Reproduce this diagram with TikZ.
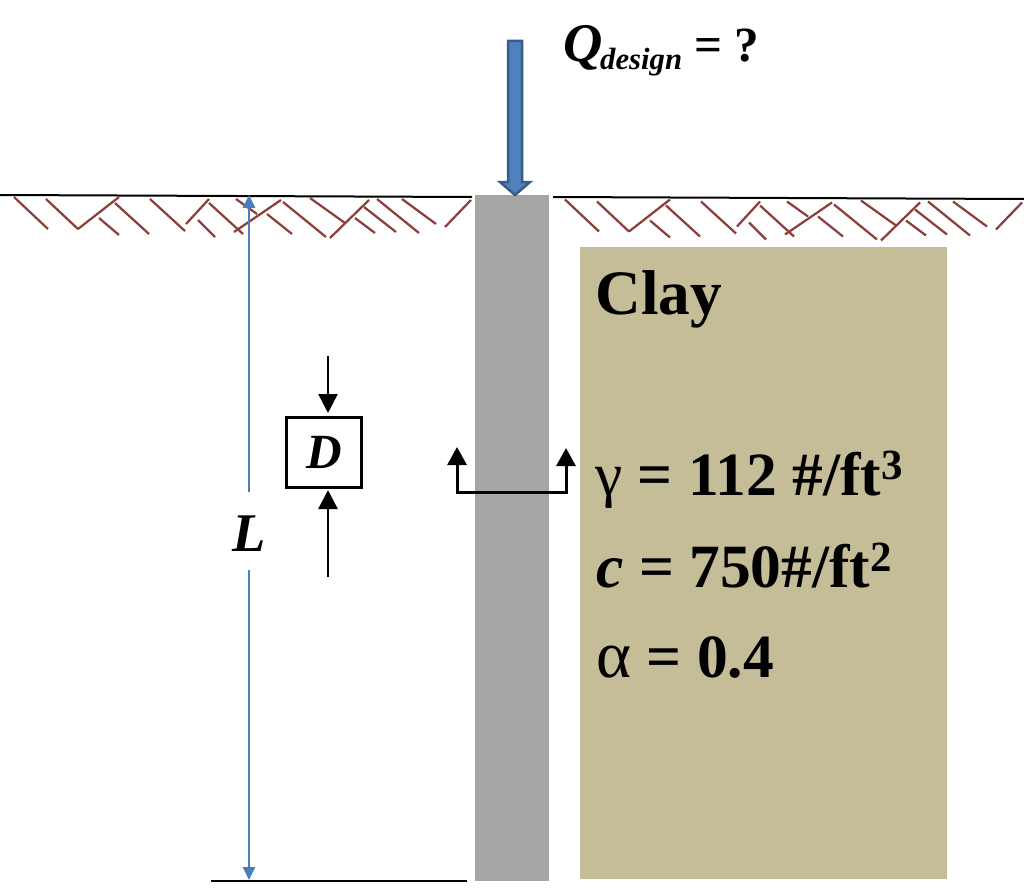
\documentclass[tikz,border=0pt]{standalone}
\usepackage{fontspec}
\setmainfont{Liberation Serif}
\usetikzlibrary{shapes,arrows.meta,calc,positioning}

\begin{document}
\begin{tikzpicture}[
	x=0.02cm,
	y=-0.02cm
	]
\tikzset{
	groundLine/.style = { line width=0.04cm, black },
	hatch/.style = { line width=0.045cm, color=hatchRed },
	pile/.style = { rectangle, fill=pileGray, minimum width=1.48cm, minimum height=13.72cm, inner sep=0cm },
	soil/.style = { rectangle, fill=clayTan, minimum width=7.34cm, minimum height=12.64cm, inner sep=0cm },
	sizeBox/.style = { rectangle, draw=black, line width=0.07cm, minimum width=1.5cm, minimum height=1.4cm, inner sep=0cm, font=\fontsize{28}{28}\selectfont\bfseries\itshape },
	loadArrow/.style = { draw=loadEdge, fill=loadBlue, line width=0.05cm },
	dimArrow/.style = { line width=0.055cm, color=dimBlue, -{Triangle[length=0.26cm,width=0.24cm]} },
	arrow/.style = { line width=0.05cm, black, -{Triangle[length=0.38cm,width=0.38cm]} },
	sectionArrow/.style = { line width=0.06cm, black, {Triangle[length=0.36cm,width=0.38cm]}-{Triangle[length=0.36cm,width=0.38cm]} },
	soilText/.style = { anchor=base west, inner sep=0cm, font=\fontsize{35}{35}\selectfont\bfseries },
	coord/.style = { coordinate }
}
\definecolor{hatchRed}{HTML}{8C3F3B}
\definecolor{pileGray}{HTML}{A6A6A6}
\definecolor{clayTan}{HTML}{C4BD97}
\definecolor{loadBlue}{HTML}{4F81BD}
\definecolor{loadEdge}{HTML}{385D8A}
\definecolor{dimBlue}{HTML}{4A7EBB}

	\useasboundingbox (0,0) rectangle (1024,892);

	% soil and pile
	\node (clay) [soil] at (763.5,563) {};
	\node (shaft) [pile] at (512,538) {};

	% ground surface
	\coordinate (groundLeftA) at (0,195);
	\coordinate (groundLeftB) at (472,197);
	\coordinate (groundRightA) at (553,197);
	\coordinate (groundRightB) at (1024,199);
	\coordinate (baseLeft) at (211,880.5);
	\coordinate (baseRight) at (467,880.5);
	\draw [groundLine] (groundLeftA) -- (groundLeftB);
	\draw [groundLine] (groundRightA) -- (groundRightB);
	\draw [groundLine] (baseLeft) -- (baseRight);

	% hatching, same pattern on both sides
	\foreach \dx/\dy in {0/0,551/2.5} {
		\begin{scope}[shift={(\dx,\dy)}]
		\foreach \xa/\ya/\xb/\yb in {14/197/48/229, 46/199/78/229, 78/229/119/197, 115/203/149/234,
			99/218/119/235, 150/199/185/231, 186/224/209/199, 209/203/243/234, 198/220/215/237,
			236/199/257/214, 234/232/281/200, 283/202/326/237, 267/214/292/234, 310/198/345/223,
			330/238/369/200, 364/207/396/232, 355/218/375/233, 377/199/419/233, 402/199/436/224,
			445/227/471/200} {
			\draw [hatch] (\xa,\ya) -- (\xb,\yb);
		}
		\end{scope}
	}

	% load
	\draw [loadArrow] (508,41) -- (522,41) -- (522,182) -- (530,182) -- (515,195) -- (500,182) -- (508,182) -- cycle;
	\node (loadText) [anchor=base west, inner sep=0cm, font=\fontsize{28}{28}\selectfont\bfseries] at (563,62) {{\fontsize{31}{31}\selectfont\textit{Q}}\kern-0.05cm\raisebox{-0.16cm}{\fontsize{17.5}{17.5}\selectfont\textit{design}} = ?};

	% length
	\node (lengthText) [inner sep=0cm, font=\fontsize{31}{31}\selectfont\bfseries\itshape] at (249,534) {L};
	\coordinate (lengthGapTop) at (249,492);
	\coordinate (lengthGapBottom) at (249,570);
	\coordinate (lengthTop) at (249,195);
	\coordinate (lengthBottom) at (249,880);
	\draw [dimArrow] (lengthGapTop) -- (lengthTop);
	\draw [dimArrow] (lengthGapBottom) -- (lengthBottom);

	% diameter
	\node (diameter) [sizeBox] at (324,452.5) {D};
	\coordinate (diaTop) at (328,356);
	\coordinate (diaTopTip) at (328,413);
	\coordinate (diaBottom) at (328,577);
	\coordinate (diaBottomTip) at (328,490);
	\draw [arrow] (diaTop) -- (diaTopTip);
	\draw [arrow] (diaBottom) -- (diaBottomTip);

	% section mark
	\coordinate (sectionLeft) at (457,447);
	\coordinate (sectionRight) at (566,448);
	\draw [sectionArrow] (sectionLeft) |- (sectionRight |- 0,492) -- (sectionRight);

	% soil data
	\node (clayName) [soilText, font=\fontsize{36}{36}\selectfont\bfseries] at (595,314) {Clay};
	\node (clayGamma) [soilText] at (595,495) {{\mdseries γ} = 112 \#/ft\textsuperscript{3}};
	\node (clayCohesion) [soilText] at (596,587) {\textit{c} = 750\#/ft\textsuperscript{2}};
	\node (clayAlpha) [soilText] at (596,677) {{\mdseries\fontsize{38}{38}\selectfont α} = 0.4};
\end{tikzpicture}
\end{document}
